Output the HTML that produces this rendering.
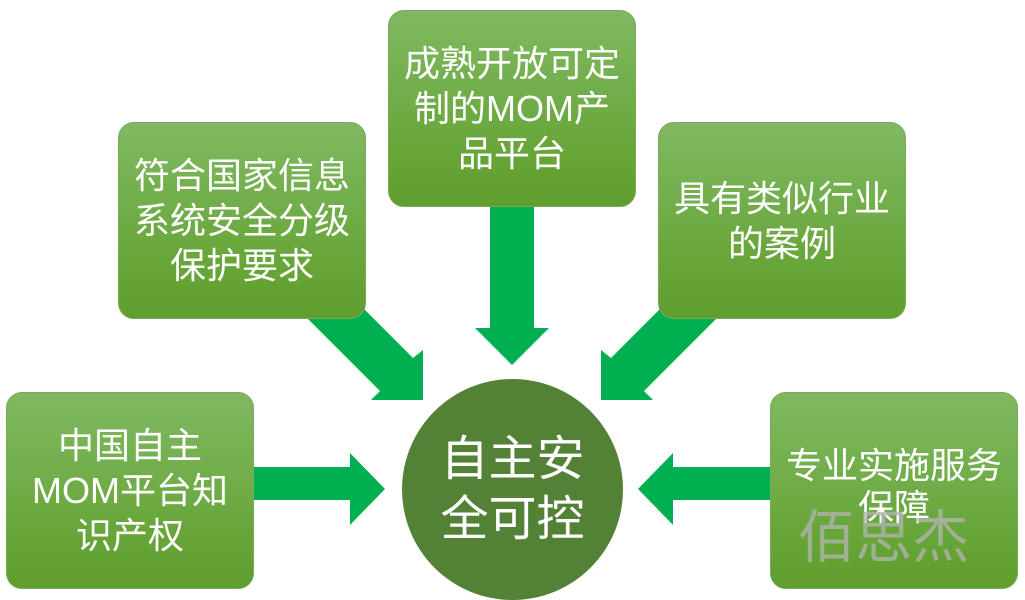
<!DOCTYPE html>
<html><head><meta charset="utf-8"><style>
body{margin:0;width:1025px;height:598px;background:#fff;position:relative;overflow:hidden;font-family:"Liberation Sans","Noto Sans CJK SC",sans-serif}
.b{position:absolute;width:248px;height:197px;border-radius:16px;background:linear-gradient(#80b962,#63a232 85%,#5f9e30);border:1px solid #7aa95a;box-sizing:border-box;color:#fff;font-size:36px;line-height:45px;display:flex;align-items:center;justify-content:center;text-align:center}
svg{position:absolute;left:0;top:0}
.c{position:absolute;left:402px;top:379px;width:221px;height:221px;border-radius:50%;background:#538135;color:#fff;font-size:48px;line-height:60px;display:flex;align-items:center;justify-content:center;text-align:center}
</style></head><body>
<svg width="1025" height="598">
<g fill="#00b050">
<polygon points="490,200 534,200 534,328 549,328 512,365 475,328 490,328"/>
<polygon points="423,350 423,400 371,400 380,391 300,311 333,278 413,358"/>
<polygon points="601,350 601,400 653,400 644,391 724,311 691,278 611,358"/>
<polygon points="250,467 350,467 350,453 385,489 350,525 350,500 250,500"/>
<polygon points="775,467 673,467 673,453 638,489 673,525 673,500 775,500"/>
</g></svg>
<div class="b" style="left:388px;top:10px">成熟开放可定<br>制的MOM产<br>品平台</div>
<div class="b" style="left:118px;top:122px">符合国家信息<br>系统安全分级<br>保护要求</div>
<div class="b" style="left:658px;top:122px">具有类似行业<br>的案例</div>
<div class="b" style="left:6px;top:392px">中国自主<br>MOM平台知<br>识产权</div>
<div class="b" style="left:770px;top:392px;align-items:flex-start;padding-top:52px;line-height:42px">专业实施服务<br>保障</div>
<div style="position:absolute;left:798px;top:503px;font-size:57px;line-height:70px;color:rgba(180,180,180,0.75)">佰思杰</div>
<div class="c">自主安<br>全可控</div>
</body></html>
